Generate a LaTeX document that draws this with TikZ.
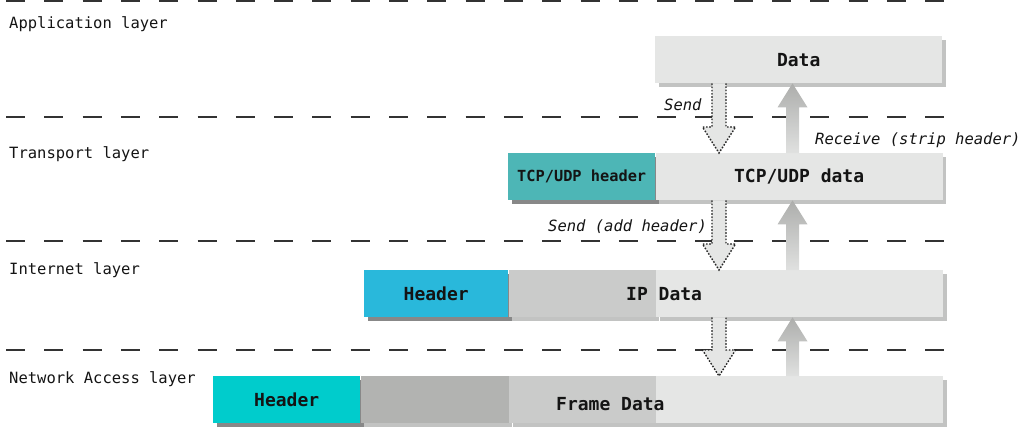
\documentclass[tikz,border=0pt]{standalone}
\usepackage{fontspec}
\setmonofont{DejaVu Sans Mono}
\usetikzlibrary{positioning,calc,shadows}

\definecolor{boxlight}{HTML}{E5E6E5}
\definecolor{boxmid}{HTML}{CACBCA}
\definecolor{boxdark}{HTML}{B2B3B1}
\definecolor{tcpteal}{HTML}{4DB6B6}
\definecolor{ipblue}{HTML}{29B8DB}
\definecolor{framecyan}{HTML}{00CCCC}
\definecolor{shadowlight}{HTML}{C2C3C2}
\definecolor{shadowdark}{HTML}{888888}
\definecolor{inkgray}{HTML}{333333}
\definecolor{inktext}{HTML}{141414}

\tikzset{
  segment/.style={rectangle, inner sep=0pt, minimum height=47pt,
    font=\ttfamily\bfseries\fontsize{18}{20}\selectfont,
    drop shadow={shadow xshift=3.5pt, shadow yshift=-3.5pt, fill=shadowlight, opacity=1}},
  hdrsegment/.style={segment,
    drop shadow={shadow xshift=3.5pt, shadow yshift=-3.5pt, fill=shadowdark, opacity=1}},
  layerline/.style={draw=inkgray, line width=2pt, dash pattern=on 19pt off 19.3pt},
  layername/.style={anchor=base west, inner sep=0pt},
  steplabel/.style={anchor=base west, inner sep=0pt, font=\ttfamily\itshape\fontsize{15.5}{18}\selectfont},
  sendshape/.style={draw=black!85, dash pattern=on 1.6pt off 1.6pt, line width=1.4pt, fill=boxlight},
  recvshape/.style={top color=boxdark!90!gray, bottom color=boxlight!95!gray}
}

% hollow dotted arrow going down, from #1 (shaft top) to #2 (tip)
\newcommand{\sendarrow}[2]{%
  \draw[sendshape] ($(#1)+(-7,0)$) -- ($(#2)+(-7,-26)$) -- ($(#2)+(-16.5,-26)$)
    -- (#2) -- ($(#2)+(16.5,-26)$) -- ($(#2)+(7,-26)$) -- ($(#1)+(7,0)$);}
% solid shaded arrow going up, from #1 (shaft bottom) to #2 (tip)
\newcommand{\recvarrow}[2]{%
  \shade[recvshape] ($(#1)+(-6.5,0)$) -- ($(#2)+(-6.5,24)$) -- ($(#2)+(-15,24)$)
    -- (#2) -- ($(#2)+(15,24)$) -- ($(#2)+(6.5,24)$) -- ($(#1)+(6.5,0)$) -- cycle;}

\begin{document}
\begin{tikzpicture}[x=1pt, y=-1pt, text=inktext,
    font=\ttfamily\fontsize{15.5}{18}\selectfont]
  \useasboundingbox (0,0) rectangle (1032,429);
  % layer separators
  \draw[layerline] (6,0.5)   -- (944,0.5);
  \draw[layerline] (6,117)   -- (944,117);
  \draw[layerline] (6,240.5) -- (944,240.5);
  \draw[layerline] (6,349.5) -- (944,349.5);
  % layer names
  \node[layername] (applayer) at (9,28)  {Application layer};
  \node[layername] (tralayer) at (9,158) {Transport layer};
  \node[layername] (netlayer) at (9,274) {Internet layer};
  \node[layername] (acclayer) at (9,383) {Network Access layer};
  % application layer
  \node[segment, fill=boxlight, minimum width=287pt, anchor=north west] (appdata) at (655,36) {Data};
  % transport layer
  \node[hdrsegment, fill=tcpteal, minimum width=147pt, anchor=north west,
    font=\ttfamily\bfseries\fontsize{15.3}{18}\selectfont] (tcphdr) at (508,153) {TCP/UDP header};
  \node[segment, fill=boxlight, minimum width=287pt, right=0pt of tcphdr] (tcpdata) {TCP/UDP data};
  % internet layer
  \node[hdrsegment, fill=ipblue, minimum width=144pt, anchor=north west] (iphdr) at (364,270) {Header};
  \node[segment, fill=boxmid, minimum width=147pt, right=0pt of iphdr] (ipmid) {};
  \node[segment, fill=boxlight, minimum width=287pt, right=0pt of ipmid] (iprest) {};
  \node[anchor=west, inner sep=0pt, font=\ttfamily\bfseries\fontsize{18}{20}\selectfont]
    (iptext) at (626,294) {IP Data};
  % network access layer
  \node[hdrsegment, fill=framecyan, minimum width=147pt, anchor=north west] (frmhdr) at (213,376) {Header};
  \node[segment, fill=boxdark, minimum width=148pt, right=0pt of frmhdr] (frmdark) {};
  \node[segment, fill=boxmid, minimum width=147pt, right=0pt of frmdark] (frmmid) {};
  \node[segment, fill=boxlight, minimum width=287pt, right=0pt of frmmid] (frmrest) {};
  \node[anchor=west, inner sep=0pt, font=\ttfamily\bfseries\fontsize{18}{20}\selectfont]
    (frmtext) at (556,404) {Frame Data};
  % x positions of the arrows
  \coordinate (sendx) at (719,0);
  \coordinate (recvx) at (792.5,0);
  % sending down
  \sendarrow{appdata.south -| sendx}{tcpdata.north -| sendx}
  \sendarrow{tcpdata.south -| sendx}{iprest.north -| sendx}
  \sendarrow{iprest.south -| sendx}{frmrest.north -| sendx}
  % receiving up
  \recvarrow{tcpdata.north -| recvx}{appdata.south -| recvx}
  \recvarrow{iprest.north -| recvx}{tcpdata.south -| recvx}
  \recvarrow{frmrest.north -| recvx}{iprest.south -| recvx}
  % step labels
  \node[steplabel] (sendone) at (664,110) {Send};
  \node[steplabel] (recvone) at (815,144) {Receive (strip header)};
  \node[steplabel] (sendtwo) at (548,231) {Send (add header)};
\end{tikzpicture}
\end{document}
